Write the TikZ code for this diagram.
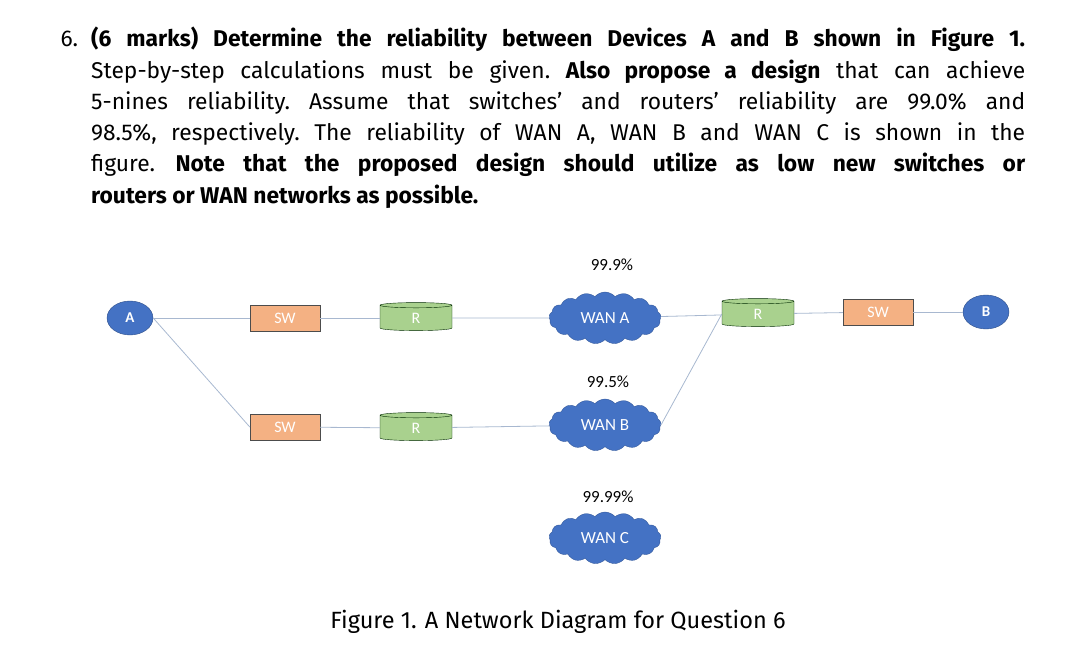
\documentclass[tikz,border=0pt]{standalone}
\usepackage{fontspec}
\setmainfont{Fira Sans}
\newfontfamily\carl{Carlito}
\usetikzlibrary{shapes.geometric,shapes.symbols}
\definecolor{blu}{HTML}{4472C4}
\definecolor{org}{HTML}{F4B183}
\definecolor{grn}{HTML}{A9D18E}
\definecolor{ln}{HTML}{A8B8D0}
\begin{document}
\begin{tikzpicture}[x=1pt,y=-1pt,
 dev/.style={ellipse,fill=blu,draw=blu!70!black,minimum width=46,minimum height=34,inner sep=0,text=white,font=\carl\fontsize{15}{15}\selectfont\bfseries},
 sw/.style={rectangle,fill=org,draw=black!70,minimum width=70,minimum height=26,inner sep=0,text=white,font=\carl\fontsize{16}{16}\selectfont},
 rt/.style={cylinder,shape border rotate=90,aspect=0.6,fill=grn,draw=black!60!green!40!black,minimum width=72,minimum height=28,inner sep=0,text=white,font=\carl\fontsize{16}{16}\selectfont},
 wan/.style={cloud,cloud puffs=17,cloud puff arc=100,aspect=2.3,fill=blu,draw=blu!80!black,minimum width=112,minimum height=52,inner sep=0,text=white,font=\carl\fontsize{17}{17}\selectfont},
 pct/.style={font=\carl\fontsize{17}{17}\selectfont},
 lk/.style={draw=ln,line width=0.8}]
\useasboundingbox (0,0) rectangle (1080,661);
\node[anchor=north west,inner sep=0,font=\fontsize{22.8}{31.3}\selectfont] (q) at (52,27) {%
\begin{minipage}[t]{973pt}\frenchspacing\leftskip=39pt\parindent=0pt
\leavevmode\llap{6.\hspace{13pt}}\textbf{(6 marks) Determine the reliability between Devices A and B shown in Figure 1.}\linebreak Step-by-step calculations must be given. \textbf{Also propose a design} that can achieve\linebreak 5-nines reliability. Assume that switches' and routers' reliability are 99.0\% and\linebreak 98.5\%, respectively. The reliability of WAN A, WAN B and WAN C is shown in the\linebreak figure. \textbf{Note that the proposed design should utilize as low new switches or\linebreak routers or WAN networks as possible.}
\end{minipage}};
\node[dev] (A) at (130,318) {A};
\node[sw] (s1) at (285,318) {SW};
\node[rt] (r1) at (416,318) {R};
\node[wan] (wa) at (605,318) {WAN A};
\node[rt] (r2) at (758,314) {R};
\node[sw] (s2) at (878,312) {SW};
\node[dev] (B) at (986,312) {B};
\node[sw] (s3) at (285,427) {SW};
\node[rt] (r3) at (416,428) {R};
\node[wan] (wb) at (605,425) {WAN B};
\node[wan] (wc) at (605,538) {WAN C};
\node[pct] (p1) at (612,265) {99.9\%};
\node[pct] (p2) at (608,382) {99.5\%};
\node[pct] (p3) at (608,497) {99.99\%};
\node[font=\fontsize{23.5}{23.5}\selectfont] (cap) at (558,622) {Figure 1. A Network Diagram for Question 6};
\draw[lk] (A) -- (s1); \draw[lk] (s1) -- (r1); \draw[lk] (r1) -- (wa);
\draw[lk] (wa) -- (r2); \draw[lk] (r2) -- (s2); \draw[lk] (s2) -- (B);
\draw[lk] (A.east) -- (s3.west); \draw[lk] (s3) -- (r3); \draw[lk] (r3) -- (wb);
\draw[lk] (wb.east) -- (r2.west);
\end{tikzpicture}
\end{document}
